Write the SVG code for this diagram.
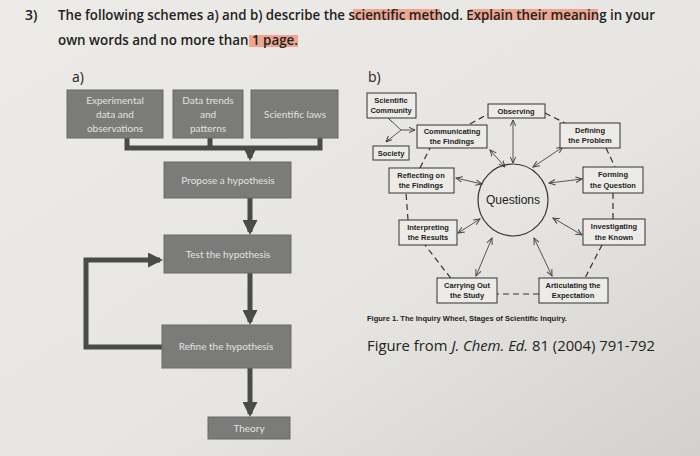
<svg xmlns="http://www.w3.org/2000/svg" width="700" height="456" viewBox="0 0 700 456">
<defs>
<linearGradient id="bg" x1="0" y1="0" x2="1" y2="1"><stop offset="0" stop-color="#ecebe7"/><stop offset="0.6" stop-color="#e6e5e1"/><stop offset="1" stop-color="#d2d1cd"/></linearGradient>
<marker id="ah" viewBox="0 0 10 10" refX="8" refY="5" markerWidth="3" markerHeight="3" orient="auto-start-reverse"><path d="M0,0 L10,5 L0,10 z" fill="#4a4a4a"/></marker>
<marker id="sa" viewBox="0 0 10 10" refX="9" refY="5" markerWidth="7" markerHeight="7" markerUnits="userSpaceOnUse" orient="auto-start-reverse"><path d="M0,1 L9,5 L0,9" fill="none" stroke="#444" stroke-width="1.4"/></marker>
</defs>
<style>
.hd{font-family:"Open Sans","Liberation Sans",sans-serif;font-weight:600;font-size:14px;fill:#222}
.gb{fill:#7b7b79;stroke:#6a6a68;stroke-width:1}
.gt{font-family:"Lato","Liberation Sans",sans-serif;font-size:10px;fill:#e2e2e0;text-anchor:middle}
.thick{stroke:#4a4a4a;stroke-width:5;fill:none}
.wb{fill:#ecebe7;stroke:#333;stroke-width:1}
.wt{font-family:"Liberation Sans",sans-serif;font-size:7.5px;font-weight:600;fill:#222;text-anchor:middle}
.dash{stroke:#333;stroke-width:1.2;fill:none;stroke-dasharray:6 4}
.dbl{stroke:#444;stroke-width:0.9;fill:none;marker-start:url(#sa);marker-end:url(#sa)}
</style>
<rect width="700" height="456" fill="url(#bg)"/>
<g id="header">
<rect x="353" y="9" width="87" height="11" fill="#f0957a" opacity="0.8"/>
<rect x="470" y="9" width="128" height="11" fill="#f0957a" opacity="0.8"/>
<rect x="249" y="35" width="49" height="12" fill="#f0957a" opacity="0.8"/>
<text class="hd" x="25" y="20">3)</text>
<text class="hd" x="58" y="20" textLength="597" lengthAdjust="spacingAndGlyphs">The following schemes a) and b) describe the scientific method. Explain their meaning in your</text>
<text class="hd" x="58" y="45" textLength="240" lengthAdjust="spacingAndGlyphs">own words and no more than 1 page.</text>
<text class="hd" x="72" y="82" style="font-weight:400">a)</text>
<text class="hd" x="368" y="82" style="font-weight:400">b)</text>
</g>
<g id="connectors-a">
<path class="thick" d="M127,138 V148 H320 V138 M210,138 V148"/>
<path class="thick" d="M250,148 V158" marker-end="url(#ah)"/>
<path class="thick" d="M250,198 V232" marker-end="url(#ah)"/>
<path class="thick" d="M250,273 V322" marker-end="url(#ah)"/>
<path class="thick" d="M250,368 V414" marker-end="url(#ah)"/>
<path class="thick" d="M162,347 H86 V260 H160" marker-end="url(#ah)"/>
</g>
<g id="a-exp"><rect class="gb" x="67" y="90" width="96" height="48"/><text class="gt" x="115" y="104">Experimental</text><text class="gt" x="115" y="118">data and</text><text class="gt" x="115" y="132">observations</text></g>
<g id="a-trends"><rect class="gb" x="173" y="90" width="70" height="48"/><text class="gt" x="208" y="104">Data trends</text><text class="gt" x="208" y="118">and</text><text class="gt" x="208" y="132">patterns</text></g>
<g id="a-laws"><rect class="gb" x="251" y="90" width="87" height="48"/><text class="gt" x="295" y="118">Scientific laws</text></g>
<g id="a-propose"><rect class="gb" x="164" y="162" width="127" height="36"/><text class="gt" x="228" y="184">Propose a hypothesis</text></g>
<g id="a-test"><rect class="gb" x="164" y="235" width="127" height="38"/><text class="gt" x="228" y="258">Test the hypothesis</text></g>
<g id="a-refine"><rect class="gb" x="162" y="325" width="129" height="43"/><text class="gt" x="226" y="350">Refine the hypothesis</text></g>
<g id="a-theory"><rect class="gb" x="208" y="417" width="82" height="22"/><text class="gt" x="249" y="432">Theory</text></g>
<g id="connectors-b">
<path class="dash" d="M470,124 L488,114 M545,113 L565,123 M606,148 L615,167 M613,193 V219 M602,245 L585,278 M539,294 H497 M463,294 L425,245 M408,220 L406,193 M420,168 L430,148"/>
<path class="dbl" d="M513,120 V163"/>
<path class="dbl" d="M490,150 L505,167"/>
<path class="dbl" d="M563,147 L533,167"/>
<path class="dbl" d="M456,178 L482,184"/>
<path class="dbl" d="M582,179 L549,183"/>
<path class="dbl" d="M458,233 L480,219"/>
<path class="dbl" d="M582,235 L553,218"/>
<path class="dbl" d="M476,276 L492,238"/>
<path class="dbl" d="M552,276 L534,238"/>
<path d="M388,118 L401,130 L386,142 M401,130 H415" fill="none" stroke="#444" stroke-width="0.9" marker-end="url(#sa)"/>
<path d="M392,122 L388,118 M389,139 L386,142" fill="none" stroke="#444" stroke-width="0.9" marker-end="url(#sa)"/>
</g>
<g id="b-community"><rect class="wb" x="367" y="93" width="49" height="25"/><text class="wt" x="391" y="103">Scientific</text><text class="wt" x="391" y="113">Community</text></g>
<g id="b-society"><rect class="wb" x="373" y="146" width="36" height="14"/><text class="wt" x="391" y="156">Society</text></g>
<g id="b-observing"><rect class="wb" x="488" y="104" width="57" height="14"/><text class="wt" x="516" y="114">Observing</text></g>
<g id="b-communicating"><rect class="wb" x="417" y="125" width="70" height="23"/><text class="wt" x="452" y="134">Communicating</text><text class="wt" x="452" y="144">the Findings</text></g>
<g id="b-defining"><rect class="wb" x="560" y="123" width="60" height="25"/><text class="wt" x="590" y="133">Defining</text><text class="wt" x="590" y="143">the Problem</text></g>
<g id="b-reflecting"><rect class="wb" x="389" y="168" width="65" height="25"/><text class="wt" x="421" y="178">Reflecting on</text><text class="wt" x="421" y="188">the Findings</text></g>
<g id="b-forming"><rect class="wb" x="583" y="167" width="60" height="26"/><text class="wt" x="613" y="177">Forming</text><text class="wt" x="613" y="188">the Question</text></g>
<g id="b-questions"><ellipse cx="513" cy="200" rx="35" ry="36" fill="none" stroke="#333" stroke-width="1.2"/><text x="513" y="204" style="font-family:'Liberation Sans',sans-serif;font-size:12px;fill:#222;text-anchor:middle">Questions</text></g>
<g id="b-interpreting"><rect class="wb" x="399" y="220" width="58" height="25"/><text class="wt" x="428" y="230">Interpreting</text><text class="wt" x="428" y="240">the Results</text></g>
<g id="b-investigating"><rect class="wb" x="583" y="219" width="62" height="26"/><text class="wt" x="614" y="229">Investigating</text><text class="wt" x="614" y="240">the Known</text></g>
<g id="b-carrying"><rect class="wb" x="437" y="278" width="60" height="25"/><text class="wt" x="467" y="288">Carrying Out</text><text class="wt" x="467" y="298">the Study</text></g>
<g id="b-articulating"><rect class="wb" x="539" y="278" width="69" height="25"/><text class="wt" x="573" y="288">Articulating the</text><text class="wt" x="573" y="298">Expectation</text></g>
<g id="captions">
<text x="367" y="321" style="font-family:'Liberation Sans',sans-serif;font-size:7.5px;font-weight:600;fill:#222">Figure 1. The Inquiry Wheel, Stages of Scientific Inquiry.</text>
<text x="367" y="351" style="font-family:'Open Sans','Liberation Sans',sans-serif;font-size:14px;fill:#222" textLength="288" lengthAdjust="spacingAndGlyphs">Figure from <tspan font-style="italic">J. Chem. Ed.</tspan> 81 (2004) 791-792</text>
</g>
</svg>
